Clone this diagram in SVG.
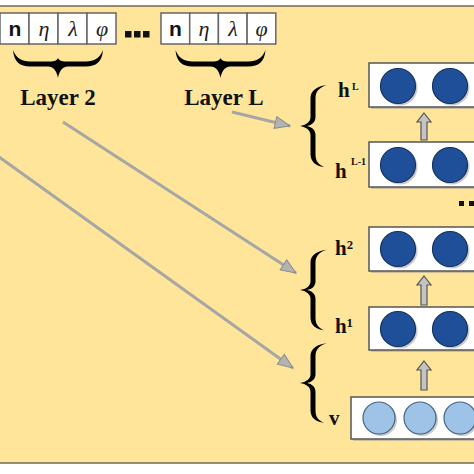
<svg xmlns="http://www.w3.org/2000/svg" width="474" height="474" viewBox="0 0 474 474">
<defs>
<style>
.cell{fill:#fff;stroke:#666;stroke-width:1.5}
.sym{font-family:"Liberation Serif",serif;font-style:italic;font-size:22px;fill:#222;text-anchor:middle}
.nn{font-family:"Liberation Sans",sans-serif;font-weight:bold;font-size:21px;fill:#111;text-anchor:middle}
.lbl{font-family:"Liberation Serif",serif;font-weight:bold;font-size:23px;fill:#111;text-anchor:middle}
.h{font-family:"Liberation Serif",serif;font-weight:bold;font-size:21px;fill:#111}
.sup{font-family:"Liberation Serif",serif;font-weight:bold;font-size:10px;fill:#111}
.box{fill:#fff;stroke:#555;stroke-width:1.5}
.shadow{fill:#9a9a9a;opacity:0.5}
.dk{fill:#1F4F98;stroke:#14325f;stroke-width:1.2}
.lt{fill:#9DC3E6;stroke:#45627f;stroke-width:1.2}
.csh{fill:#888;opacity:0.45}
.up{fill:#c4c4c4;stroke:#555;stroke-width:1.2}
.conn{stroke:#a6a6a6;stroke-width:3;fill:none}
.brace{fill:#000}
</style>
<marker id="ah" markerUnits="userSpaceOnUse" markerWidth="18" markerHeight="14" refX="15" refY="6" orient="auto" viewBox="-1 -1 18 14">
<path d="M0,0 L15,6 L0,12 Z" fill="#b3b3b3" stroke="#8c8c8c" stroke-width="1"/>
</marker>
<path id="vbrace" d="M27,-41 C18,-40 10.5,-36 10.5,-28 L10.5,-9 C10.5,-4 6,-1 0,0 C6,1 10.5,4 10.5,9 L10.5,28 C10.5,36 16,40 24,41 C18,38 15.5,35 15.5,28 L15.5,9 C15.5,4 12,1 7,0 C12,-1 15.5,-4 15.5,-9 L15.5,-28 C15.5,-35 20,-39 27,-41 Z"/>
<path id="hbrace" d="M-45,-28 C-44,-16 -38,-11.5 -28,-11.5 L-10,-11.5 C-4,-11.5 -1,-6 0,0 C1,-6 4,-11.5 10,-11.5 L28,-11.5 C38,-11.5 44,-16 45,-28 C42,-20 36,-16.5 28,-16.5 L10,-16.5 C5,-16.5 1,-17 0,-20 C-1,-17 -5,-16.5 -10,-16.5 L-28,-16.5 C-36,-16.5 -42,-20 -45,-28 Z"/>
</defs>
<rect x="0" y="0" width="474" height="474" fill="#fff"/>
<rect id="panel" x="-5" y="6" width="484" height="457" fill="#FFE599" stroke="#6f6a5a" stroke-width="1.5"/>

<g id="layer2-params">
<rect class="cell" x="0" y="13" width="29" height="31"/>
<rect class="cell" x="29" y="13" width="29" height="31"/>
<rect class="cell" x="58" y="13" width="29" height="31"/>
<rect class="cell" x="87" y="13" width="29" height="31"/>
<text class="nn" x="15" y="36">n</text>
<text class="sym" x="44" y="36">η</text>
<text class="sym" x="73" y="36">λ</text>
<text class="sym" x="102" y="36">φ</text>
</g>
<g id="dots-top" fill="#111">
<rect x="125" y="31" width="6.5" height="6.5"/>
<rect x="134" y="31" width="6.5" height="6.5"/>
<rect x="143" y="31" width="6.5" height="6.5"/>
</g>
<g id="layerL-params">
<rect class="cell" x="161" y="13" width="28.7" height="31"/>
<rect class="cell" x="189.7" y="13" width="28.7" height="31"/>
<rect class="cell" x="218.4" y="13" width="28.7" height="31"/>
<rect class="cell" x="247.1" y="13" width="28.7" height="31"/>
<text class="nn" x="175.5" y="36">n</text>
<text class="sym" x="204" y="36">η</text>
<text class="sym" x="233" y="36">λ</text>
<text class="sym" x="261.5" y="36">φ</text>
</g>
<g id="layer2-label">
<use href="#hbrace" class="brace" transform="translate(58,78)"/>
<text class="lbl" x="58" y="105">Layer 2</text>
</g>
<g id="layerL-label">
<use href="#hbrace" class="brace" transform="translate(220.5,78)"/>
<text class="lbl" x="224" y="105">Layer L</text>
</g>

<g id="connectors">
<line class="conn" x1="232" y1="112" x2="290" y2="126" marker-end="url(#ah)"/>
<line class="conn" x1="63" y1="122" x2="296" y2="273" marker-end="url(#ah)"/>
<line class="conn" x1="-5" y1="154" x2="293" y2="368" marker-end="url(#ah)"/>
<polygon class="up" points="424,113 431,122 427,122 427,140 421,140 421,122 417,122"/>
<polygon class="up" points="424,276 431,285 427,285 427,305 421,305 421,285 417,285"/>
<polygon class="up" points="424,361 431,370 427,370 427,390 421,390 421,370 417,370"/>
</g>

<g id="braces">
<use href="#vbrace" class="brace" transform="translate(300,126)"/>
<use href="#vbrace" class="brace" transform="translate(300,290) scale(1,0.98)"/>
<use href="#vbrace" class="brace" transform="translate(300,383) scale(1,0.97)"/>
</g>

<g id="hL">
<rect class="shadow" x="371" y="65" width="120" height="44"/>
<rect class="box" x="369" y="63" width="120" height="44"/>
<circle class="csh" cx="400" cy="88" r="17.5"/>
<circle class="csh" cx="452" cy="88" r="17.5"/>
<circle class="dk" cx="398" cy="86" r="17.5"/>
<circle class="dk" cx="450" cy="86" r="17.5"/>
<text class="h" x="338" y="97">h</text>
<text class="sup" x="352" y="90">L</text>
</g>
<g id="hL1">
<rect class="shadow" x="371" y="144" width="120" height="45"/>
<rect class="box" x="369" y="142" width="120" height="45"/>
<circle class="csh" cx="400" cy="167" r="17.5"/>
<circle class="csh" cx="452" cy="167" r="17.5"/>
<circle class="dk" cx="398" cy="165" r="17.5"/>
<circle class="dk" cx="450" cy="165" r="17.5"/>
<text class="h" x="335" y="178">h</text>
<text class="sup" x="351" y="165">L-1</text>
</g>
<g id="dots-right" fill="#111">
<rect x="459" y="201" width="5" height="5"/>
<rect x="469" y="201" width="5" height="5"/>
</g>
<g id="h2">
<rect class="shadow" x="371" y="229" width="120" height="44"/>
<rect class="box" x="369" y="227" width="120" height="44"/>
<circle class="csh" cx="400" cy="251" r="17.5"/>
<circle class="csh" cx="452" cy="251" r="17.5"/>
<circle class="dk" cx="398" cy="249" r="17.5"/>
<circle class="dk" cx="450" cy="249" r="17.5"/>
<text class="h" x="335" y="255">h²</text>
</g>
<g id="h1">
<rect class="shadow" x="371" y="309" width="120" height="43"/>
<rect class="box" x="369" y="307" width="120" height="43"/>
<circle class="csh" cx="400" cy="331" r="17.5"/>
<circle class="csh" cx="452" cy="331" r="17.5"/>
<circle class="dk" cx="398" cy="329" r="17.5"/>
<circle class="dk" cx="450" cy="329" r="17.5"/>
<text class="h" x="335" y="333">h¹</text>
</g>
<g id="v">
<rect class="shadow" x="353" y="399" width="140" height="42"/>
<rect class="box" x="351" y="397" width="140" height="42"/>
<circle class="csh" cx="381" cy="420" r="16"/>
<circle class="csh" cx="422" cy="420" r="16"/>
<circle class="csh" cx="462" cy="420" r="16"/>
<circle class="lt" cx="379" cy="418" r="16"/>
<circle class="lt" cx="420" cy="418" r="16"/>
<circle class="lt" cx="460" cy="418" r="16"/>
<text class="h" x="329" y="425">v</text>
</g>
</svg>
